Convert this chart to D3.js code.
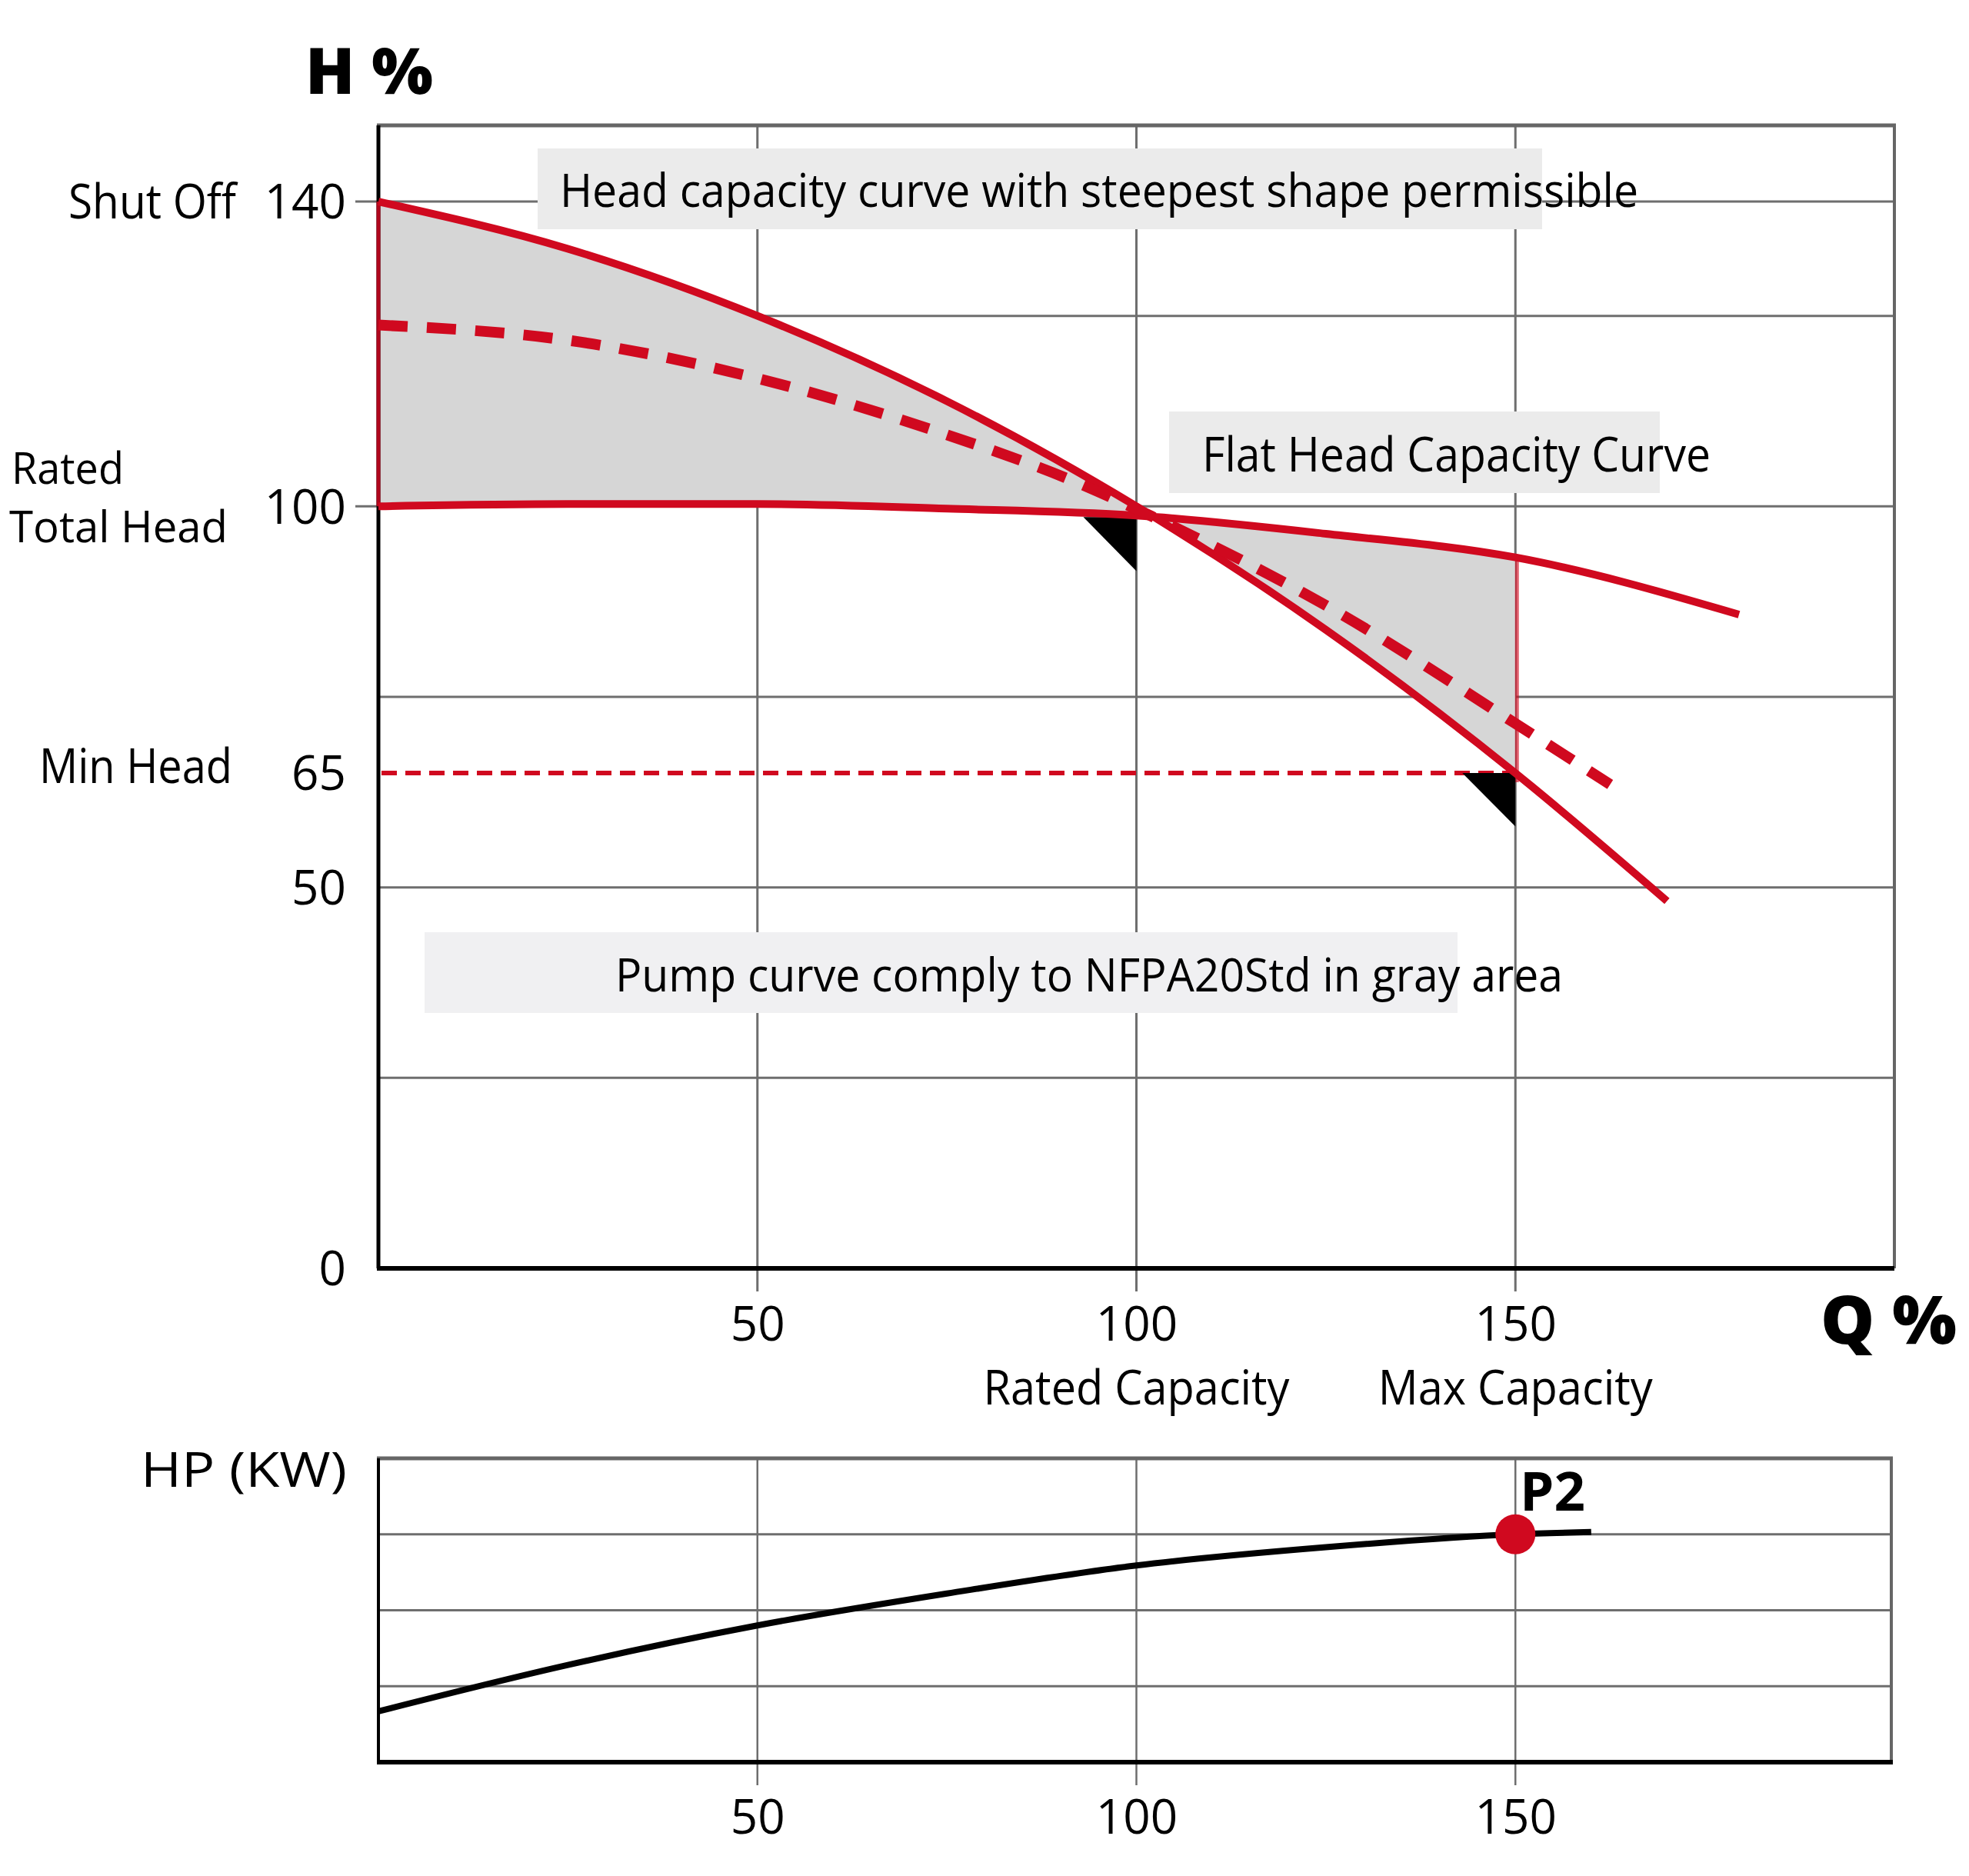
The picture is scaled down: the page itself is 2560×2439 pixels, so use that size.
<!DOCTYPE html>
<html>
<head>
<meta charset="utf-8">
<script src="https://cdn.jsdelivr.net/npm/d3@7/dist/d3.min.js"></script>
<style>
  body { margin: 0; background: #fff; }
  text { font-family: "Open Sans", sans-serif; fill: #000; }
</style>
</head>
<body>
<svg id="chart" width="2560" height="2439"></svg>
<script>
// head curves (Q % against H %)
var steepQ = [0, 25, 50, 75, 100, 125, 150, 170];
var steepH = [140, 133.8, 125, 113.8, 100, 83.8, 65, 48.2];
var flatQ = [0, 25, 50, 75, 100, 125, 150, 179.5];
var flatH = [100, 100.3, 100.3, 99.7, 98.8, 96.4, 93.3, 85.8];
var dashQ = [0, 25, 50, 75, 92, 102, 125, 150, 162.5];
var dashH = [123.8, 121.8, 116.8, 109.4, 103.2, 98.7, 87, 71.5, 63.5];

// power curve, bottom panel (grid units)
var hpQ = [0, 25, 50, 75, 100, 125, 150, 160];
var hpP = [0.67, 1.28, 1.8, 2.22, 2.59, 2.83, 3.0, 3.03];
var p2 = { q: 150, p: 3.0, label: 'P2' };

// limits
var shutOff = 140;
var ratedHead = 100;
var minHead = 65;
var maxQ = 150;
var maxQHead = [93.3, 63.8];
var pointerA = [[93, 98.6], [100, 98.6], [100, 91.5]];
var pointerB = [[143, 65], [150, 65], [150, 58]];

// ticks
var headTicks = [140, 100, 65, 50, 0];
var headGrid = [25, 50, 75, 100, 125, 140];
var headStubs = [140, 100];
var flowTicks = [50, 100, 150];
var powerGrid = [1, 2, 3];

var notes = [
  'Head capacity curve with steepest shape permissible',
  'Flat Head Capacity Curve',
  'Pump curve comply to NFPA20Std in gray area'
];

var RED = '#d0091f';
var GRID = '#6e6e6e';

var svg = d3.select('#chart');
svg.append('rect').attr('width', 2560).attr('height', 2439).attr('fill', '#fff');
var defs = svg.append('defs');

var x = d3.scaleLinear().domain([0, 200]).range([492, 2463]);
var y = d3.scaleLinear().domain([0, 150]).range([1649, 163]);
var yp = d3.scaleLinear().domain([0, 4]).range([2291, 1896]);

function zip (a, b) {
  return a.map(function (v, i) { return [v, b[i]]; });
}

function label (g, str, px, py, size, width, anchor, weight) {
  return g.append('text')
    .attr('x', px)
    .attr('y', py)
    .attr('font-size', size)
    .attr('font-weight', weight || 400)
    .attr('text-anchor', anchor || 'start')
    .attr('textLength', width)
    .attr('lengthAdjust', 'spacingAndGlyphs')
    .text(str);
}

var line = d3.line()
  .x(function (d) { return x(d[0]); })
  .y(function (d) { return y(d[1]); })
  .curve(d3.curveMonotoneX);

var steepD = line(zip(steepQ, steepH));
var flatD = line(zip(flatQ, flatH));
var dashD = line(zip(dashQ, dashH));

// close a curve down to the x axis or up to the top of the plot
function closeTo (d, lastQ, h) {
  return d + ' L' + x(lastQ) + ',' + y(h) + ' L' + x(0) + ',' + y(h) + 'Z';
}

// ---------- head panel ----------
var headPanel = svg.append('g').attr('class', 'head');

headPanel.selectAll('.hgrid')
  .data(headGrid)
  .enter()
  .append('line')
  .attr('class', 'hgrid')
  .attr('x1', function (d) { return headStubs.indexOf(d) >= 0 ? x(0) - 30 : x(0); })
  .attr('x2', x(200))
  .attr('y1', y)
  .attr('y2', y)
  .attr('stroke', GRID)
  .attr('stroke-width', 3);

headPanel.selectAll('.vgrid')
  .data(flowTicks)
  .enter()
  .append('line')
  .attr('class', 'vgrid')
  .attr('x1', x)
  .attr('x2', x)
  .attr('y1', y(150))
  .attr('y2', y(0) + 30)
  .attr('stroke', GRID)
  .attr('stroke-width', 3);

// gray band: between the steepest and the flat curve, up to max capacity
defs.append('clipPath').attr('id', 'toMax')
  .append('rect')
  .attr('x', x(0)).attr('y', y(150))
  .attr('width', x(maxQ) - x(0)).attr('height', y(0) - y(150));
defs.append('clipPath').attr('id', 'belowFlat')
  .append('path').attr('d', closeTo(flatD, flatQ[flatQ.length - 1], 0));
defs.append('clipPath').attr('id', 'aboveFlat')
  .append('path').attr('d', closeTo(flatD, flatQ[flatQ.length - 1], 150));
defs.append('clipPath').attr('id', 'belowSteep')
  .append('path').attr('d', closeTo(steepD, steepQ[steepQ.length - 1], 0));
defs.append('clipPath').attr('id', 'aboveSteep')
  .append('path').attr('d', closeTo(steepD, steepQ[steepQ.length - 1], 150));

var band = headPanel.append('g').attr('clip-path', 'url(#toMax)');
[['aboveFlat', 'belowSteep'], ['belowFlat', 'aboveSteep']].forEach(function (pair) {
  band.append('g').attr('clip-path', 'url(#' + pair[0] + ')')
    .append('rect')
    .attr('clip-path', 'url(#' + pair[1] + ')')
    .attr('x', x(0)).attr('y', y(150))
    .attr('width', x(maxQ) - x(0)).attr('height', y(0) - y(150))
    .attr('fill', '#d6d6d6');
});

// note boxes
var boxes = [[699, 193, 2005, 298, '#ebebeb'], [1520, 535, 2158, 641, '#ebebeb'], [552, 1212, 1895, 1317, '#f0f0f2']];
headPanel.selectAll('.box')
  .data(boxes)
  .enter()
  .append('rect')
  .attr('class', 'box')
  .attr('x', function (d) { return d[0]; })
  .attr('y', function (d) { return d[1]; })
  .attr('width', function (d) { return d[2] - d[0]; })
  .attr('height', function (d) { return d[3] - d[1]; })
  .attr('fill', function (d) { return d[4]; });

label(headPanel, notes[0], 728, 269, 60, 1402);
label(headPanel, notes[1], 1563, 613, 62, 661);
label(headPanel, notes[2], 800, 1289, 60, 1232);

// frame
headPanel.append('line').attr('x1', x(0) - 2).attr('x2', x(200) + 2).attr('y1', y(150)).attr('y2', y(150))
  .attr('stroke', '#666').attr('stroke-width', 5);
headPanel.append('line').attr('x1', x(200)).attr('x2', x(200)).attr('y1', y(150)).attr('y2', y(0))
  .attr('stroke', '#666').attr('stroke-width', 4);
headPanel.append('line').attr('x1', x(0)).attr('x2', x(0)).attr('y1', y(150)).attr('y2', y(0))
  .attr('stroke', '#000').attr('stroke-width', 5);
headPanel.append('line').attr('x1', x(0) - 2).attr('x2', x(200)).attr('y1', y(0)).attr('y2', y(0))
  .attr('stroke', '#000').attr('stroke-width', 6);

// shut off edge and max capacity edge of the band
headPanel.append('line').attr('x1', x(0)).attr('x2', x(0)).attr('y1', y(shutOff)).attr('y2', y(ratedHead))
  .attr('stroke', '#b0061c').attr('stroke-width', 5);
headPanel.append('line').attr('x1', x(maxQ) + 2).attr('x2', x(maxQ) + 2)
  .attr('y1', y(maxQHead[0])).attr('y2', y(maxQHead[1]))
  .attr('stroke', RED).attr('stroke-opacity', 0.65).attr('stroke-width', 5);

// min head
headPanel.append('line')
  .attr('x1', x(0) + 4).attr('x2', x(maxQ))
  .attr('y1', y(minHead)).attr('y2', y(minHead))
  .attr('stroke', RED).attr('stroke-width', 6)
  .attr('stroke-dasharray', '20 11');

// pointers
headPanel.selectAll('.pointer')
  .data([pointerA, pointerB])
  .enter()
  .append('path')
  .attr('class', 'pointer')
  .attr('d', function (d) {
    return 'M' + d.map(function (p) { return x(p[0]) + ',' + y(p[1]); }).join('L') + 'Z';
  })
  .attr('fill', '#000');

// curves
headPanel.append('path').attr('d', flatD)
  .attr('fill', 'none').attr('stroke', RED).attr('stroke-width', 10);
headPanel.append('path').attr('d', steepD)
  .attr('fill', 'none').attr('stroke', RED).attr('stroke-width', 10);
headPanel.append('path').attr('d', dashD)
  .attr('fill', 'none').attr('stroke', RED).attr('stroke-width', 14)
  .attr('stroke-dasharray', '38 25');

// axes labels
var yAxis = d3.axisLeft(y).tickValues(headTicks).tickSize(0).tickPadding(42).tickFormat(d3.format('d'));
var yg = headPanel.append('g').attr('transform', 'translate(' + x(0) + ',0)').call(yAxis);
yg.select('.domain').remove();
yg.selectAll('text').attr('font-size', 62).attr('font-family', '"Open Sans", sans-serif').attr('dy', '0.35em').attr('fill', '#000');

var xAxis = d3.axisBottom(x).tickValues(flowTicks).tickSize(0).tickPadding(50).tickFormat(d3.format('d'));
var xg = headPanel.append('g').attr('transform', 'translate(0,' + y(0) + ')').call(xAxis);
xg.select('.domain').remove();
xg.selectAll('text').attr('font-size', 62).attr('font-family', '"Open Sans", sans-serif').attr('fill', '#000');

label(headPanel, 'Shut Off', 89, 284, 62, 218);
label(headPanel, 'Rated', 15, 629, 56, 146);
label(headPanel, 'Total Head', 12, 705, 56, 284);
label(headPanel, 'Min Head', 51, 1018, 62, 251);
label(headPanel, 'Rated Capacity', x(100), 1826, 62, 398, 'middle');
label(headPanel, 'Max Capacity', x(150), 1826, 62, 357, 'middle');

headPanel.append('text').attr('x', 397).attr('y', 122)
  .attr('font-family', 'Lato, sans-serif').attr('font-weight', 900).attr('font-size', 84)
  .attr('textLength', 166).attr('lengthAdjust', 'spacingAndGlyphs').text('H %');
headPanel.append('text').attr('x', 2367).attr('y', 1747)
  .attr('font-family', 'Lato, sans-serif').attr('font-weight', 900).attr('font-size', 86)
  .attr('textLength', 177).attr('lengthAdjust', 'spacingAndGlyphs').text('Q %');

// ---------- power panel ----------
var powerPanel = svg.append('g').attr('class', 'power');

powerPanel.selectAll('.hgrid')
  .data(powerGrid)
  .enter()
  .append('line')
  .attr('x1', x(0)).attr('x2', 2459)
  .attr('y1', yp).attr('y2', yp)
  .attr('stroke', GRID).attr('stroke-width', 3);

powerPanel.selectAll('.vgrid')
  .data(flowTicks)
  .enter()
  .append('line')
  .attr('x1', x).attr('x2', x)
  .attr('y1', yp(4)).attr('y2', yp(0) + 30)
  .attr('stroke', GRID).attr('stroke-width', 2.5);

powerPanel.append('line').attr('x1', x(0) - 2).attr('x2', 2461).attr('y1', yp(4)).attr('y2', yp(4))
  .attr('stroke', '#666').attr('stroke-width', 5);
powerPanel.append('line').attr('x1', 2459).attr('x2', 2459).attr('y1', yp(4)).attr('y2', yp(0))
  .attr('stroke', '#666').attr('stroke-width', 4);
powerPanel.append('line').attr('x1', x(0)).attr('x2', x(0)).attr('y1', yp(4)).attr('y2', yp(0))
  .attr('stroke', '#000').attr('stroke-width', 4);
powerPanel.append('line').attr('x1', x(0) - 2).attr('x2', 2461).attr('y1', yp(0)).attr('y2', yp(0))
  .attr('stroke', '#000').attr('stroke-width', 6);

var hpLine = d3.line()
  .x(function (d) { return x(d[0]); })
  .y(function (d) { return yp(d[1]); })
  .curve(d3.curveMonotoneX);

powerPanel.append('path').attr('d', hpLine(zip(hpQ, hpP)))
  .attr('fill', 'none').attr('stroke', '#000').attr('stroke-width', 8);

powerPanel.append('circle').attr('cx', x(p2.q)).attr('cy', yp(p2.p)).attr('r', 26).attr('fill', RED);
label(powerPanel, p2.label, 1976, 1964, 70, 85, 'start', 700);
label(powerPanel, 'HP (KW)', 183, 1933, 62, 268);

var xAxis2 = d3.axisBottom(x).tickValues(flowTicks).tickSize(0).tickPadding(49).tickFormat(d3.format('d'));
var xg2 = powerPanel.append('g').attr('transform', 'translate(0,' + yp(0) + ')').call(xAxis2);
xg2.select('.domain').remove();
xg2.selectAll('text').attr('font-size', 62).attr('font-family', '"Open Sans", sans-serif').attr('fill', '#000');
</script>
</body>
</html>
